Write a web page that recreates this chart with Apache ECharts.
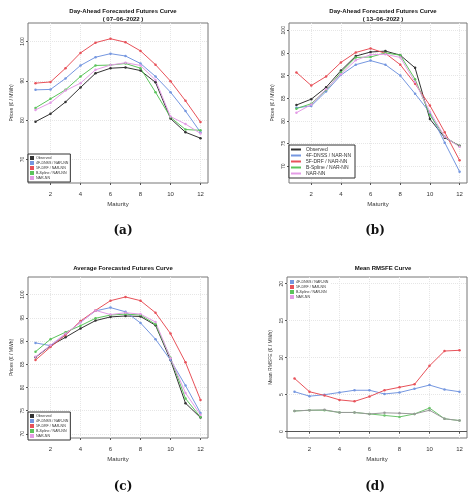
<!DOCTYPE html>
<html><head><meta charset="utf-8">
<script src="https://cdn.jsdelivr.net/npm/echarts@6/dist/echarts.min.js"></script>
<style>html,body{margin:0;background:#fff}#c{width:474px;height:493px}</style>
</head><body><div id="c"></div>
<script>
var maturity = [1, 2, 3, 4, 5, 6, 7, 8, 9, 10, 11, 12];
var xTicks = [2, 4, 6, 8, 10, 12];
var names = ['Observed', '4F-DNSS / NAR-NN', '5F-DRF / NAR-NN', 'B-Spline / NAR-NN', 'NAR-NN'];
var colors = ['#333333', '#7597e0', '#e8525a', '#5cc45c', '#e49ce6'];

// (a) 07-06-2022
var aObs = [79.6, 81.6, 84.6, 88.3, 91.9, 93.2, 93.4, 92.6, 89.6, 80.4, 76.9, 75.4];
var a4F = [87.7, 87.8, 90.6, 93.9, 96.0, 96.9, 96.3, 94.4, 91.1, 87.1, 82.3, 76.9];
var a5F = [89.4, 89.7, 93.2, 97.1, 99.7, 100.7, 99.8, 97.6, 94.1, 89.9, 84.9, 79.5];
var aBS = [83.1, 85.4, 87.7, 91.1, 93.9, 94.0, 94.4, 93.2, 87.1, 80.7, 77.6, 77.4];
var aNN = [82.6, 84.4, 87.5, 89.4, 92.8, 94.0, 94.6, 93.9, 90.2, 80.9, 79.0, 76.6];
var aTicks = [70, 80, 90, 100];
// (b) 13-06-2022
var bObs = [83.5, 84.8, 87.4, 91.1, 94.3, 95.2, 95.4, 94.5, 91.7, 80.4, 76.3, 74.5];
var b4F = [82.9, 83.3, 86.5, 90.1, 92.4, 93.3, 92.4, 90.0, 86.0, 81.8, 75.2, 68.8];
var b5F = [90.7, 87.8, 89.8, 92.9, 95.1, 96.0, 94.9, 92.4, 88.2, 83.4, 77.5, 71.3];
var bBS = [82.7, 83.8, 86.8, 90.7, 94.0, 94.1, 95.0, 94.5, 89.2, 81.3, 76.5, 74.4];
var bNN = [81.8, 83.6, 87.0, 90.3, 93.4, 94.6, 94.7, 94.0, 88.6, 82.0, 76.5, 74.3];
var bTicks = [70, 75, 80, 85, 90, 95, 100];
// (c) average
var cObs = [86.5, 89.0, 90.8, 92.7, 94.4, 95.2, 95.4, 95.3, 93.4, 85.9, 76.6, 73.5];
var c4F = [89.6, 89.0, 91.4, 94.1, 96.5, 97.2, 96.3, 93.9, 90.4, 85.9, 80.4, 74.5];
var c5F = [85.9, 88.7, 91.3, 94.3, 96.6, 98.7, 99.5, 98.7, 96.1, 91.6, 85.4, 77.3];
var cBS = [87.7, 90.4, 91.9, 93.3, 94.9, 95.6, 95.8, 95.6, 93.6, 86.4, 77.6, 73.6];
var cNN = [86.6, 89.1, 91.6, 94.0, 96.6, 95.7, 96.1, 95.8, 94.1, 86.3, 78.8, 74.1];
var cTicks = [70, 75, 80, 85, 90, 95, 100];
// (d) mean RMSFE
var d4F = [5.4, 4.8, 5.0, 5.3, 5.6, 5.6, 5.1, 5.3, 5.8, 6.3, 5.7, 5.4];
var d5F = [7.2, 5.4, 4.9, 4.3, 4.1, 4.75, 5.6, 6.0, 6.4, 8.9, 10.9, 11.0];
var dBS = [2.8, 2.9, 2.9, 2.6, 2.6, 2.4, 2.2, 2.0, 2.4, 3.2, 1.75, 1.5];
var dNN = [2.8, 2.9, 2.95, 2.6, 2.6, 2.4, 2.55, 2.5, 2.4, 2.9, 1.75, 1.5];
var dTicks = [0, 5, 10, 15, 20];

var panels = [
  {grid: {left: 28, top: 23, width: 180, height: 160}, min: 64, max: 104.7, ticks: aTicks, yname: 'Prices (€ / MWh)',
   series: [aObs, a4F, a5F, aBS, aNN], cols: colors},
  {grid: {left: 289, top: 23, width: 178, height: 160}, min: 66.3, max: 101.6, ticks: bTicks, yname: 'Prices (€ / MWh)',
   series: [bObs, b4F, b5F, bBS, bNN], cols: colors},
  {grid: {left: 28, top: 277, width: 180, height: 161}, min: 69.1, max: 103.8, ticks: cTicks, yname: 'Prices (€ / MWh)',
   series: [cObs, c4F, c5F, cBS, cNN], cols: colors},
  {grid: {left: 287, top: 277, width: 180, height: 161}, min: -0.85, max: 20.9, ticks: dTicks, yname: 'Mean RMSFE (€ / MWh)',
   series: [null, d4F, d5F, dBS, dNN], cols: ['#333', '#7597e0', '#e8525a', '#6cc46c', '#999999']}
];

var grids = [], xAxes = [], yAxes = [], series = [];
panels.forEach(function(p, i) {
  grids.push(Object.assign({show: true, borderColor: '#777', borderWidth: 1, backgroundColor: 'transparent'}, p.grid));
  xAxes.push({type: 'value', gridIndex: i, min: 0.5, max: 12.5,
    name: 'Maturity', nameLocation: 'middle', nameGap: 18, nameTextStyle: {fontSize: 6, color: '#333'},
    axisLine: {show: false},
    axisTick: {show: true, length: 2, customValues: xTicks, lineStyle: {color: '#555'}},
    axisLabel: {fontSize: 6, color: '#333', customValues: xTicks},
    splitLine: {show: true, lineStyle: {color: '#e6e6e6', type: 'dotted'}}
  });
  yAxes.push({type: 'value', gridIndex: i, min: p.min, max: p.max,
    name: p.yname, nameLocation: 'middle', nameGap: 14, nameTextStyle: {fontSize: 5, color: '#333'},
    axisLine: {show: false},
    axisTick: {show: true, length: 2, customValues: p.ticks, lineStyle: {color: '#555'}},
    axisLabel: {fontSize: 5, color: '#333', rotate: 90, margin: 3, customValues: p.ticks},
    splitNumber: 8,
    splitLine: {show: true, lineStyle: {color: '#e6e6e6', type: 'dotted'}}
  });
  p.series.forEach(function(arr, k) {
    if (!arr) return;
    series.push({name: names[k], type: 'line', xAxisIndex: i, yAxisIndex: i,
      data: maturity.map(function(m, j) { return [m, arr[j]]; }),
      symbol: 'circle', symbolSize: 2.5, color: p.cols[k],
      lineStyle: {width: 1, color: p.cols[k]}, itemStyle: {color: p.cols[k]},
      markLine: (i === 3 && k === 1) ? {silent: true, symbol: 'none', label: {show: false},
        lineStyle: {color: '#555', type: 'solid', width: 1}, data: [{yAxis: 0}]} : undefined,
      animation: false});
  });
});

var smallLegend = function(left, top, data, border) {
  return {left: left, top: top, orient: 'vertical', data: data, itemWidth: 4, itemHeight: 4, itemGap: 1,
    icon: 'rect', padding: 2, borderColor: border ? '#333' : 'transparent', borderWidth: border ? 1 : 0,
    backgroundColor: '#fff', textStyle: {fontSize: 3.6, color: '#333', padding: [0, 0, 0, -3]}};
};

var option = {
  backgroundColor: '#fff',
  animation: false,
  title: [
    {text: 'Day-Ahead Forecasted Futures Curve\n( 07–06–2022 )', left: 118, top: 2, textAlign: 'center',
      textStyle: {fontSize: 6, fontWeight: 'bold', color: '#111', lineHeight: 8}},
    {text: 'Day-Ahead Forecasted Futures Curve\n( 13–06–2022 )', left: 378, top: 2, textAlign: 'center',
      textStyle: {fontSize: 6, fontWeight: 'bold', color: '#111', lineHeight: 8}},
    {text: 'Average Forecasted Futures Curve', left: 118, top: 260, textAlign: 'center',
      textStyle: {fontSize: 6, fontWeight: 'bold', color: '#111'}},
    {text: 'Mean RMSFE Curve', left: 378, top: 260, textAlign: 'center',
      textStyle: {fontSize: 6, fontWeight: 'bold', color: '#111'}},
    {text: '(a)', left: 118, top: 220, textAlign: 'center', textStyle: {fontSize: 12, fontWeight: 'bold', fontFamily: 'DejaVu Serif', color: '#111'}},
    {text: '(b)', left: 370, top: 220, textAlign: 'center', textStyle: {fontSize: 12, fontWeight: 'bold', fontFamily: 'DejaVu Serif', color: '#111'}},
    {text: '(c)', left: 118, top: 476, textAlign: 'center', textStyle: {fontSize: 12, fontWeight: 'bold', fontFamily: 'DejaVu Serif', color: '#111'}},
    {text: '(d)', left: 370, top: 476, textAlign: 'center', textStyle: {fontSize: 12, fontWeight: 'bold', fontFamily: 'DejaVu Serif', color: '#111'}}
  ],
  legend: [
    smallLegend(28, 154, names, true),
    {left: 289, top: 145, orient: 'vertical', data: names, itemWidth: 10, itemHeight: 2, itemGap: 1, icon: 'rect',
      padding: [2, 4, 2, 2], borderColor: '#333', borderWidth: 1, backgroundColor: '#fff',
      textStyle: {fontSize: 5, color: '#333'}},
    smallLegend(28, 412, names, true),
    smallLegend(288, 278, names.slice(1), false)
  ],
  grid: grids, xAxis: xAxes, yAxis: yAxes, series: series
};

echarts.init(document.getElementById('c')).setOption(option);
</script></body></html>
